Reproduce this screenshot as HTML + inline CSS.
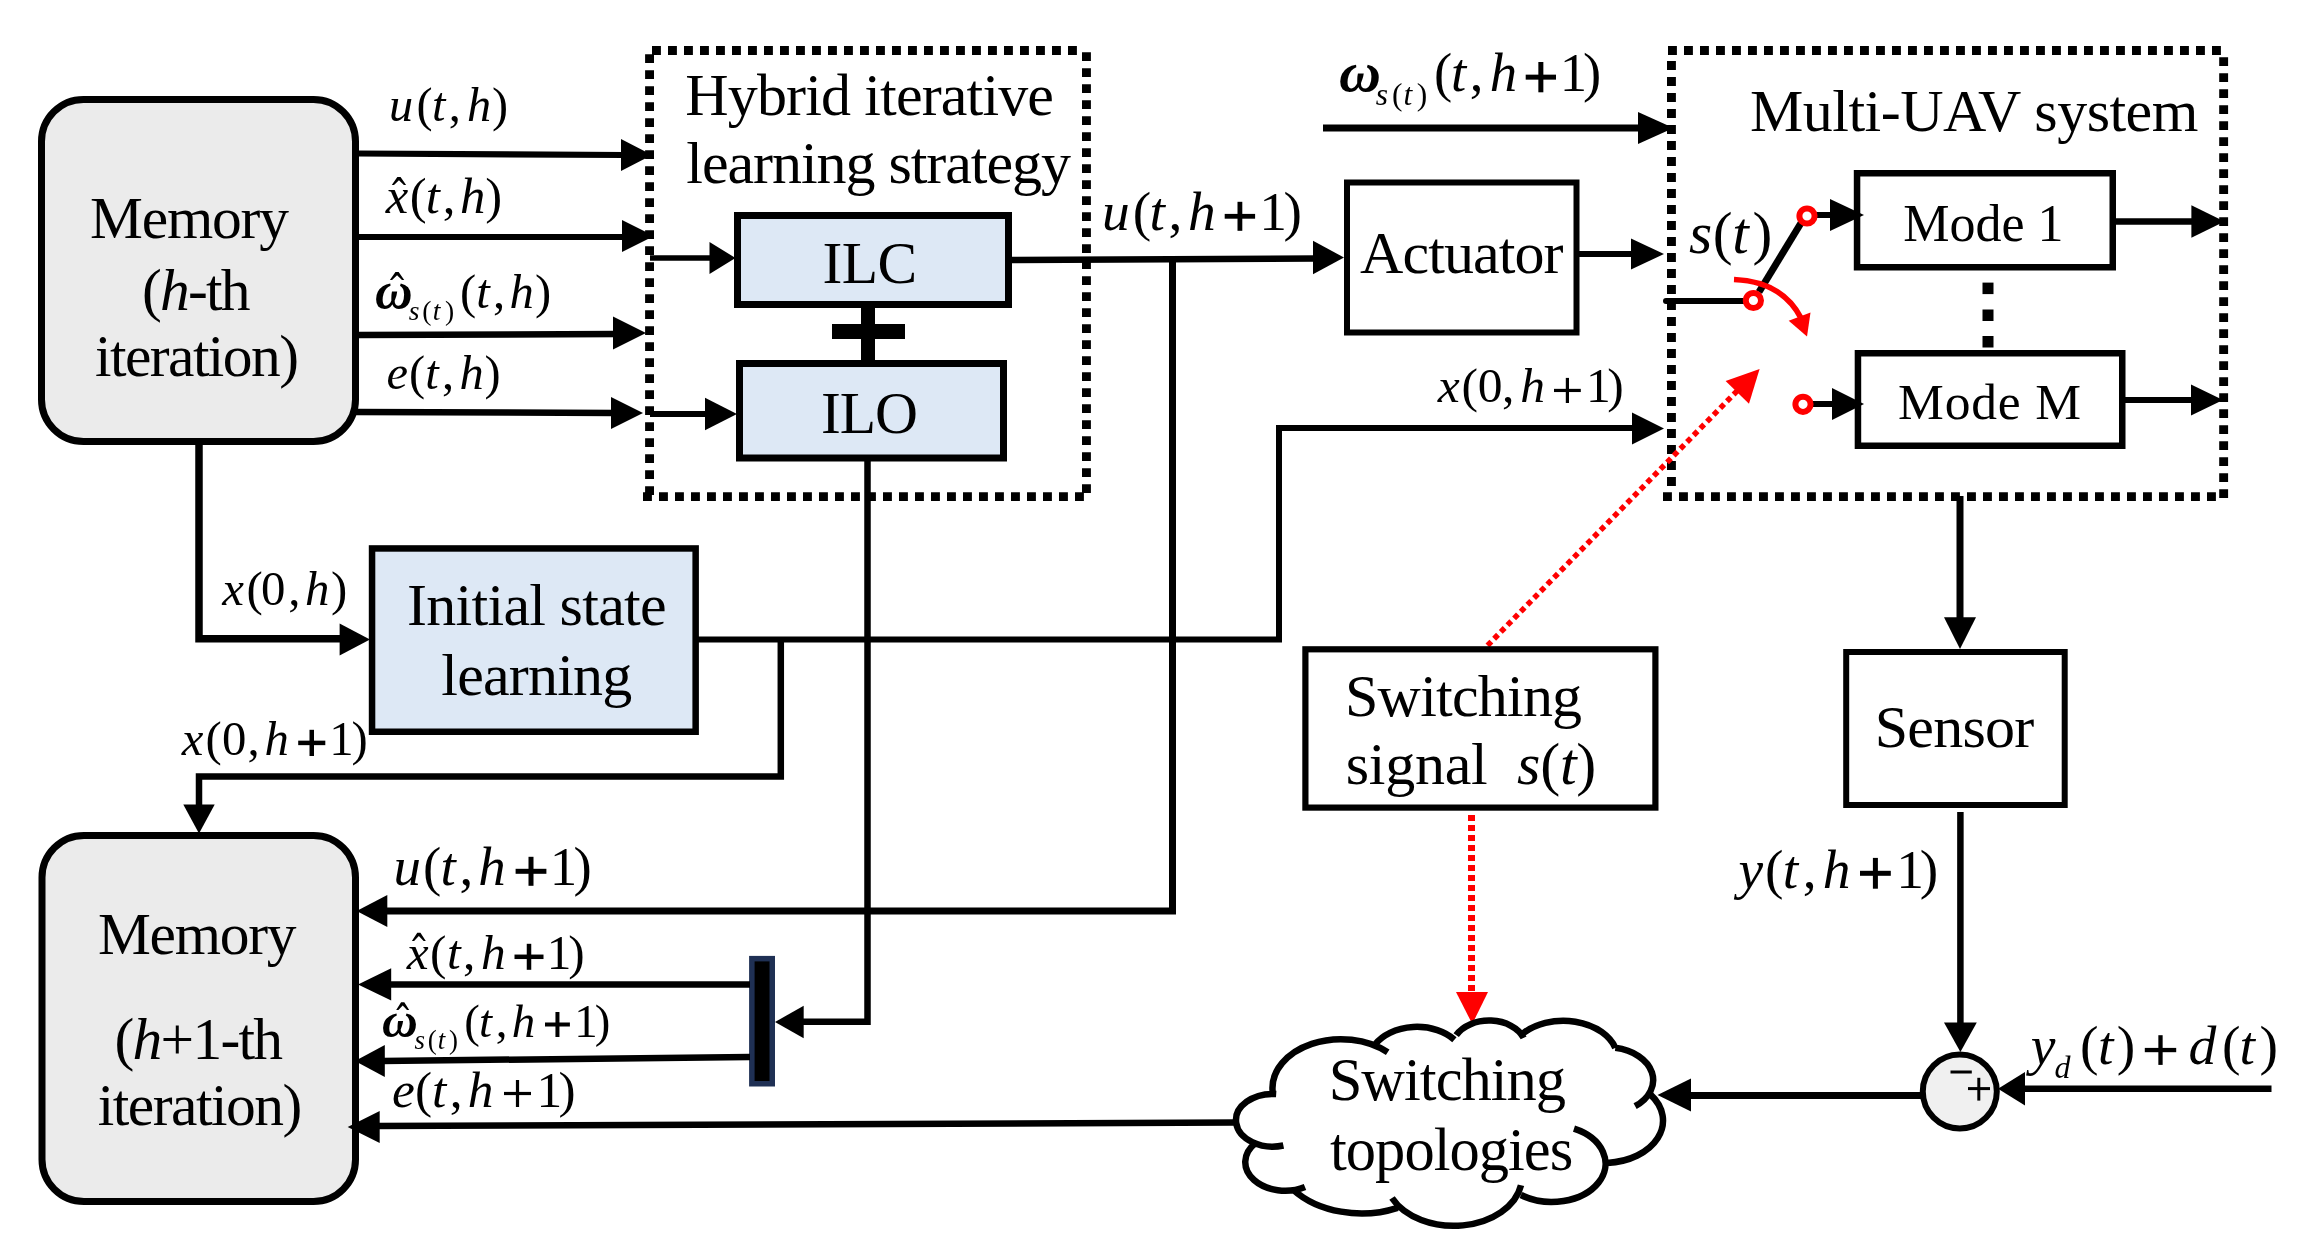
<!DOCTYPE html>
<html><head><meta charset="utf-8"><style>
html,body{margin:0;padding:0;background:#fff;overflow:hidden}
svg{display:block;will-change:transform}
text{font-family:"Liberation Serif",serif;fill:#000}
</style></head><body>
<svg width="2315" height="1251" viewBox="0 0 2315 1251">
<rect width="2315" height="1251" fill="#fff"/>
<rect x="41.5" y="99.5" width="314" height="342" rx="42" fill="#ebebeb" stroke="#000" stroke-width="7"/>
<line x1="357" y1="153.5" x2="625" y2="155" stroke="#000" stroke-width="6.2" stroke-linecap="butt" />
<polygon points="652,155 621,139 621,171" fill="#000"/>
<line x1="357" y1="237" x2="625" y2="237" stroke="#000" stroke-width="6" stroke-linecap="butt" />
<polygon points="654,236 622,220 622,252" fill="#000"/>
<line x1="359" y1="335" x2="618" y2="334" stroke="#000" stroke-width="6.5" stroke-linecap="butt" />
<polygon points="646,333 613,316.6 613,349.4" fill="#000"/>
<line x1="355" y1="412" x2="615" y2="413" stroke="#000" stroke-width="6.5" stroke-linecap="butt" />
<polygon points="643,413 611,397 611,429" fill="#000"/>
<path d="M652,46h8.9v8.9h-8.9z M668,46h8.9v8.9h-8.9z M684,46h8.9v8.9h-8.9z M700,46h8.9v8.9h-8.9z M716,46h8.9v8.9h-8.9z M732,46h8.9v8.9h-8.9z M748,46h8.9v8.9h-8.9z M764,46h8.9v8.9h-8.9z M780,46h8.9v8.9h-8.9z M796,46h8.9v8.9h-8.9z M812,46h8.9v8.9h-8.9z M828,46h8.9v8.9h-8.9z M844,46h8.9v8.9h-8.9z M860,46h8.9v8.9h-8.9z M876,46h8.9v8.9h-8.9z M892,46h8.9v8.9h-8.9z M908,46h8.9v8.9h-8.9z M924,46h8.9v8.9h-8.9z M940,46h8.9v8.9h-8.9z M956,46h8.9v8.9h-8.9z M972,46h8.9v8.9h-8.9z M988,46h8.9v8.9h-8.9z M1004,46h8.9v8.9h-8.9z M1020,46h8.9v8.9h-8.9z M1036,46h8.9v8.9h-8.9z M1052,46h8.9v8.9h-8.9z M1068,46h8.9v8.9h-8.9z M643,492.2h8.9v8.9h-8.9z M659,492.2h8.9v8.9h-8.9z M675,492.2h8.9v8.9h-8.9z M691,492.2h8.9v8.9h-8.9z M707,492.2h8.9v8.9h-8.9z M723,492.2h8.9v8.9h-8.9z M739,492.2h8.9v8.9h-8.9z M755,492.2h8.9v8.9h-8.9z M771,492.2h8.9v8.9h-8.9z M787,492.2h8.9v8.9h-8.9z M803,492.2h8.9v8.9h-8.9z M819,492.2h8.9v8.9h-8.9z M835,492.2h8.9v8.9h-8.9z M851,492.2h8.9v8.9h-8.9z M867,492.2h8.9v8.9h-8.9z M883,492.2h8.9v8.9h-8.9z M899,492.2h8.9v8.9h-8.9z M915,492.2h8.9v8.9h-8.9z M931,492.2h8.9v8.9h-8.9z M947,492.2h8.9v8.9h-8.9z M963,492.2h8.9v8.9h-8.9z M979,492.2h8.9v8.9h-8.9z M995,492.2h8.9v8.9h-8.9z M1011,492.2h8.9v8.9h-8.9z M1027,492.2h8.9v8.9h-8.9z M1043,492.2h8.9v8.9h-8.9z M1059,492.2h8.9v8.9h-8.9z M1075,492.2h8.9v8.9h-8.9z M645.1,54.2h8.9v8.9h-8.9z M645.1,70.2h8.9v8.9h-8.9z M645.1,86.2h8.9v8.9h-8.9z M645.1,102.2h8.9v8.9h-8.9z M645.1,118.2h8.9v8.9h-8.9z M645.1,134.2h8.9v8.9h-8.9z M645.1,150.2h8.9v8.9h-8.9z M645.1,166.2h8.9v8.9h-8.9z M645.1,182.2h8.9v8.9h-8.9z M645.1,198.2h8.9v8.9h-8.9z M645.1,214.2h8.9v8.9h-8.9z M645.1,230.2h8.9v8.9h-8.9z M645.1,246.2h8.9v8.9h-8.9z M645.1,262.2h8.9v8.9h-8.9z M645.1,278.2h8.9v8.9h-8.9z M645.1,294.2h8.9v8.9h-8.9z M645.1,310.2h8.9v8.9h-8.9z M645.1,326.2h8.9v8.9h-8.9z M645.1,342.2h8.9v8.9h-8.9z M645.1,358.2h8.9v8.9h-8.9z M645.1,374.2h8.9v8.9h-8.9z M645.1,390.2h8.9v8.9h-8.9z M645.1,406.2h8.9v8.9h-8.9z M645.1,422.2h8.9v8.9h-8.9z M645.1,438.2h8.9v8.9h-8.9z M645.1,454.2h8.9v8.9h-8.9z M645.1,470.2h8.9v8.9h-8.9z M645.1,486.2h8.9v8.9h-8.9z M1082,52.2h8.9v8.9h-8.9z M1082,68.2h8.9v8.9h-8.9z M1082,84.2h8.9v8.9h-8.9z M1082,100.2h8.9v8.9h-8.9z M1082,116.2h8.9v8.9h-8.9z M1082,132.2h8.9v8.9h-8.9z M1082,148.2h8.9v8.9h-8.9z M1082,164.2h8.9v8.9h-8.9z M1082,180.2h8.9v8.9h-8.9z M1082,196.2h8.9v8.9h-8.9z M1082,212.2h8.9v8.9h-8.9z M1082,228.2h8.9v8.9h-8.9z M1082,244.2h8.9v8.9h-8.9z M1082,260.2h8.9v8.9h-8.9z M1082,276.2h8.9v8.9h-8.9z M1082,292.2h8.9v8.9h-8.9z M1082,308.2h8.9v8.9h-8.9z M1082,324.2h8.9v8.9h-8.9z M1082,340.2h8.9v8.9h-8.9z M1082,356.2h8.9v8.9h-8.9z M1082,372.2h8.9v8.9h-8.9z M1082,388.2h8.9v8.9h-8.9z M1082,404.2h8.9v8.9h-8.9z M1082,420.2h8.9v8.9h-8.9z M1082,436.2h8.9v8.9h-8.9z M1082,452.2h8.9v8.9h-8.9z M1082,468.2h8.9v8.9h-8.9z M1082,484.2h8.9v8.9h-8.9z" fill="#000"/>
<rect x="737.5" y="215.5" width="271" height="89" rx="0" fill="#dde8f5" stroke="#000" stroke-width="7"/>
<rect x="739.5" y="363.5" width="264" height="94.5" rx="0" fill="#dde8f5" stroke="#000" stroke-width="7"/>
<rect x="861" y="307" width="14" height="54" fill="#000"/>
<rect x="832" y="324" width="73" height="15" fill="#000"/>
<line x1="650" y1="258" x2="712" y2="258" stroke="#000" stroke-width="5.5" stroke-linecap="butt" />
<polygon points="735.5,258 709.5,242 709.5,274" fill="#000"/>
<line x1="650" y1="414" x2="708" y2="414" stroke="#000" stroke-width="6" stroke-linecap="butt" />
<polygon points="737,414 705,397.8 705,430.2" fill="#000"/>
<line x1="1011" y1="260" x2="1316" y2="258.5" stroke="#000" stroke-width="6.5" stroke-linecap="butt" />
<polygon points="1344,257.5 1313,240.8 1313,274.2" fill="#000"/>
<polyline points="1172.5,259 1172.5,911 384,911" fill="none" stroke="#000" stroke-width="7" stroke-linejoin="miter" />
<polygon points="356.6,911 387.3,895 387.3,927" fill="#000"/>
<rect x="1347" y="182.5" width="229.5" height="150" rx="0" fill="none" stroke="#000" stroke-width="6"/>
<line x1="1579" y1="254" x2="1634" y2="254" stroke="#000" stroke-width="6" stroke-linecap="butt" />
<polygon points="1664,254 1631,238.6 1631,269.4" fill="#000"/>
<line x1="1323" y1="128" x2="1641" y2="128" stroke="#000" stroke-width="7" stroke-linecap="butt" />
<polygon points="1673.5,128 1638,112 1638,144" fill="#000"/>
<path d="M1668,46h8.9v8.9h-8.9z M1684,46h8.9v8.9h-8.9z M1700,46h8.9v8.9h-8.9z M1716,46h8.9v8.9h-8.9z M1732,46h8.9v8.9h-8.9z M1748,46h8.9v8.9h-8.9z M1764,46h8.9v8.9h-8.9z M1780,46h8.9v8.9h-8.9z M1796,46h8.9v8.9h-8.9z M1812,46h8.9v8.9h-8.9z M1828,46h8.9v8.9h-8.9z M1844,46h8.9v8.9h-8.9z M1860,46h8.9v8.9h-8.9z M1876,46h8.9v8.9h-8.9z M1892,46h8.9v8.9h-8.9z M1908,46h8.9v8.9h-8.9z M1924,46h8.9v8.9h-8.9z M1940,46h8.9v8.9h-8.9z M1956,46h8.9v8.9h-8.9z M1972,46h8.9v8.9h-8.9z M1988,46h8.9v8.9h-8.9z M2004,46h8.9v8.9h-8.9z M2020,46h8.9v8.9h-8.9z M2036,46h8.9v8.9h-8.9z M2052,46h8.9v8.9h-8.9z M2068,46h8.9v8.9h-8.9z M2084,46h8.9v8.9h-8.9z M2100,46h8.9v8.9h-8.9z M2116,46h8.9v8.9h-8.9z M2132,46h8.9v8.9h-8.9z M2148,46h8.9v8.9h-8.9z M2164,46h8.9v8.9h-8.9z M2180,46h8.9v8.9h-8.9z M2196,46h8.9v8.9h-8.9z M2212,46h8.9v8.9h-8.9z M1663,492.2h8.9v8.9h-8.9z M1679,492.2h8.9v8.9h-8.9z M1695,492.2h8.9v8.9h-8.9z M1711,492.2h8.9v8.9h-8.9z M1727,492.2h8.9v8.9h-8.9z M1743,492.2h8.9v8.9h-8.9z M1759,492.2h8.9v8.9h-8.9z M1775,492.2h8.9v8.9h-8.9z M1791,492.2h8.9v8.9h-8.9z M1807,492.2h8.9v8.9h-8.9z M1823,492.2h8.9v8.9h-8.9z M1839,492.2h8.9v8.9h-8.9z M1855,492.2h8.9v8.9h-8.9z M1871,492.2h8.9v8.9h-8.9z M1887,492.2h8.9v8.9h-8.9z M1903,492.2h8.9v8.9h-8.9z M1919,492.2h8.9v8.9h-8.9z M1935,492.2h8.9v8.9h-8.9z M1951,492.2h8.9v8.9h-8.9z M1967,492.2h8.9v8.9h-8.9z M1983,492.2h8.9v8.9h-8.9z M1999,492.2h8.9v8.9h-8.9z M2015,492.2h8.9v8.9h-8.9z M2031,492.2h8.9v8.9h-8.9z M2047,492.2h8.9v8.9h-8.9z M2063,492.2h8.9v8.9h-8.9z M2079,492.2h8.9v8.9h-8.9z M2095,492.2h8.9v8.9h-8.9z M2111,492.2h8.9v8.9h-8.9z M2127,492.2h8.9v8.9h-8.9z M2143,492.2h8.9v8.9h-8.9z M2159,492.2h8.9v8.9h-8.9z M2175,492.2h8.9v8.9h-8.9z M2191,492.2h8.9v8.9h-8.9z M2207,492.2h8.9v8.9h-8.9z M1667,61.1h8.9v8.9h-8.9z M1667,77.1h8.9v8.9h-8.9z M1667,93.1h8.9v8.9h-8.9z M1667,109.1h8.9v8.9h-8.9z M1667,125.1h8.9v8.9h-8.9z M1667,141.1h8.9v8.9h-8.9z M1667,157.1h8.9v8.9h-8.9z M1667,173.1h8.9v8.9h-8.9z M1667,189.1h8.9v8.9h-8.9z M1667,205.1h8.9v8.9h-8.9z M1667,221.1h8.9v8.9h-8.9z M1667,237.1h8.9v8.9h-8.9z M1667,253.1h8.9v8.9h-8.9z M1667,269.1h8.9v8.9h-8.9z M1667,285.1h8.9v8.9h-8.9z M1667,301.1h8.9v8.9h-8.9z M1667,317.1h8.9v8.9h-8.9z M1667,333.1h8.9v8.9h-8.9z M1667,349.1h8.9v8.9h-8.9z M1667,365.1h8.9v8.9h-8.9z M1667,381.1h8.9v8.9h-8.9z M1667,397.1h8.9v8.9h-8.9z M1667,413.1h8.9v8.9h-8.9z M1667,429.1h8.9v8.9h-8.9z M1667,445.1h8.9v8.9h-8.9z M1667,461.1h8.9v8.9h-8.9z M1667,477.1h8.9v8.9h-8.9z M2219.2,57.2h8.9v8.9h-8.9z M2219.2,73.2h8.9v8.9h-8.9z M2219.2,89.2h8.9v8.9h-8.9z M2219.2,105.2h8.9v8.9h-8.9z M2219.2,121.2h8.9v8.9h-8.9z M2219.2,137.2h8.9v8.9h-8.9z M2219.2,153.2h8.9v8.9h-8.9z M2219.2,169.2h8.9v8.9h-8.9z M2219.2,185.2h8.9v8.9h-8.9z M2219.2,201.2h8.9v8.9h-8.9z M2219.2,217.2h8.9v8.9h-8.9z M2219.2,233.2h8.9v8.9h-8.9z M2219.2,249.2h8.9v8.9h-8.9z M2219.2,265.2h8.9v8.9h-8.9z M2219.2,281.2h8.9v8.9h-8.9z M2219.2,297.2h8.9v8.9h-8.9z M2219.2,313.2h8.9v8.9h-8.9z M2219.2,329.2h8.9v8.9h-8.9z M2219.2,345.2h8.9v8.9h-8.9z M2219.2,361.2h8.9v8.9h-8.9z M2219.2,377.2h8.9v8.9h-8.9z M2219.2,393.2h8.9v8.9h-8.9z M2219.2,409.2h8.9v8.9h-8.9z M2219.2,425.2h8.9v8.9h-8.9z M2219.2,441.2h8.9v8.9h-8.9z M2219.2,457.2h8.9v8.9h-8.9z M2219.2,473.2h8.9v8.9h-8.9z M2219.2,489.2h8.9v8.9h-8.9z" fill="#000"/>
<rect x="1857.05" y="173.25" width="255.7" height="94" rx="0" fill="none" stroke="#000" stroke-width="6.5"/>
<rect x="1857.95" y="353.25" width="264.3" height="92.5" rx="0" fill="none" stroke="#000" stroke-width="6.5"/>
<line x1="2116" y1="221.5" x2="2194" y2="221.5" stroke="#000" stroke-width="6.5" stroke-linecap="butt" />
<polygon points="2224.5,221.5 2191.4,205.2 2191.4,237.8" fill="#000"/>
<line x1="2125" y1="400" x2="2194" y2="400" stroke="#000" stroke-width="6" stroke-linecap="butt" />
<polygon points="2223,400 2191,384.5 2191,415.5" fill="#000"/>
<rect x="1982.5" y="282.6" width="11" height="11.5" fill="#000"/>
<rect x="1982.5" y="309.5" width="11" height="11.5" fill="#000"/>
<rect x="1982.5" y="336" width="11" height="11.5" fill="#000"/>
<line x1="1666" y1="301" x2="1746" y2="301" stroke="#000" stroke-width="6" stroke-linecap="round" />
<line x1="1759" y1="292" x2="1801" y2="223" stroke="#000" stroke-width="7" stroke-linecap="butt" />
<line x1="1815" y1="215" x2="1833" y2="215" stroke="#000" stroke-width="6" stroke-linecap="butt" />
<polygon points="1864,215 1830,199 1830,231" fill="#000"/>
<line x1="1811" y1="404" x2="1835" y2="404" stroke="#000" stroke-width="6" stroke-linecap="butt" />
<polygon points="1864,404 1832,388 1832,420" fill="#000"/>
<circle cx="1807" cy="216" r="7.6" fill="#fff" stroke="#ff0000" stroke-width="6"/>
<circle cx="1803" cy="404.3" r="7.6" fill="#fff" stroke="#ff0000" stroke-width="6"/>
<circle cx="1753.4" cy="300.5" r="7.6" fill="#fff" stroke="#ff0000" stroke-width="6"/>
<path d="M1734,279.5 Q1782,281.5 1801,318" fill="none" stroke="#ff0000" stroke-width="5.7"/>
<polygon points="1788.7,320.8 1810.5,312.5 1807,336.5" fill="#ff0000"/>
<line x1="1487.5" y1="645.5" x2="1738" y2="390" stroke="#ff0000" stroke-width="5.5" stroke-dasharray="5.5 4"/>
<polygon points="1759.6,369 1725.6,381 1749,403.7" fill="#ff0000"/>
<polyline points="698,639.5 1279,639.5 1279,428 1635,428" fill="none" stroke="#000" stroke-width="6" stroke-linejoin="miter" />
<polygon points="1664,428.5 1632,412.5 1632,444.5" fill="#000"/>
<polyline points="199,444 199,638.8 342,638.8" fill="none" stroke="#000" stroke-width="7.5" stroke-linejoin="miter" />
<polygon points="370,639.5 339.6,623.5 339.6,655.5" fill="#000"/>
<rect x="372.05" y="548.45" width="323.6" height="183.3" rx="0" fill="#dde8f5" stroke="#000" stroke-width="6.5"/>
<polyline points="780.8,639.5 780.8,776.5 199,776.5 199,806" fill="none" stroke="#000" stroke-width="6.5" stroke-linejoin="miter" />
<polygon points="199,833.5 183.3,804.4 214.7,804.4" fill="#000"/>
<rect x="42" y="835.5" width="313.5" height="366" rx="42" fill="#ebebeb" stroke="#000" stroke-width="7"/>
<polyline points="867.5,461 867.5,1021.7 800,1021.7" fill="none" stroke="#000" stroke-width="6.5" stroke-linejoin="miter" />
<polygon points="775,1022 803.7,1005.7 803.7,1038.3" fill="#000"/>
<rect x="751.85" y="958.65" width="20.4" height="125.1" fill="#000" stroke="#1f3054" stroke-width="5.5"/>
<line x1="750" y1="984.4" x2="388" y2="984.4" stroke="#000" stroke-width="6.5" stroke-linecap="butt" />
<polygon points="358,984.4 391.2,968.2 391.2,1000.6" fill="#000"/>
<line x1="750" y1="1057" x2="382" y2="1061" stroke="#000" stroke-width="6.5" stroke-linecap="butt" />
<polygon points="355,1061 384.8,1045 384.8,1077" fill="#000"/>
<line x1="1236" y1="1122.5" x2="376" y2="1126" stroke="#000" stroke-width="6.5" stroke-linecap="butt" />
<polygon points="347.7,1127 379.7,1111 379.7,1143" fill="#000"/>
<rect x="1305.4" y="649.3" width="350" height="158.3" rx="0" fill="none" stroke="#000" stroke-width="6.2"/>
<line x1="1471.5" y1="815" x2="1471.5" y2="992" stroke="#ff0000" stroke-width="7" stroke-dasharray="6 4"/>
<polygon points="1456,992 1488,992 1472.3,1024" fill="#ff0000"/>
<line x1="1960" y1="496" x2="1960" y2="620" stroke="#000" stroke-width="7" stroke-linecap="butt" />
<polygon points="1960,649 1944,617.2 1976,617.2" fill="#000"/>
<rect x="1846.2" y="652" width="218.5" height="153" rx="0" fill="none" stroke="#000" stroke-width="6"/>
<line x1="1960.4" y1="812" x2="1960.4" y2="1025" stroke="#000" stroke-width="6.5" stroke-linecap="butt" />
<polygon points="1960.4,1052 1944,1022.4 1976.8,1022.4" fill="#000"/>
<circle cx="1959.8" cy="1091.5" r="37" fill="#f0f0f0" stroke="#000" stroke-width="6"/>
<line x1="1950.5" y1="1072" x2="1971.8" y2="1072" stroke="#000" stroke-width="3" stroke-linecap="butt" />
<line x1="1968" y1="1088.6" x2="1990" y2="1088.6" stroke="#000" stroke-width="3" stroke-linecap="butt" />
<line x1="1978.8" y1="1077.8" x2="1978.8" y2="1100.6" stroke="#000" stroke-width="3" stroke-linecap="butt" />
<line x1="2271.5" y1="1088.8" x2="2022" y2="1088.8" stroke="#000" stroke-width="6.5" stroke-linecap="butt" />
<polygon points="1998,1088.8 2025,1072.1 2025,1105.5" fill="#000"/>
<line x1="1921" y1="1095.5" x2="1688" y2="1095.5" stroke="#000" stroke-width="7" stroke-linecap="butt" />
<polygon points="1657.5,1095 1691,1078.5 1691,1111.5" fill="#000"/>
<path d="M1283.4,1145.5 A36.89,26.35 0 1 1 1276.2,1094 M1272.6,1091 A68.51,48.93 0 0 1 1387.7,1052.3 M1375.2,1044.2 A48.05,34.32 0 0 1 1454.4,1039.7 M1456.2,1035.2 A36.66,26.19 0 0 1 1523.6,1037.9 M1523.5,1033 A54.67,39.05 0 0 1 1615.3,1047.8 M1615.3,1047.8 A45.95,32.82 0 0 1 1635.1,1106.2 M1650.4,1094.5 A59.3,42.36 0 0 1 1607.2,1162.9 M1574,1128.7 A53.68,38.34 0 1 1 1521,1195 M1521,1185.3 A68.3,48.78 0 0 1 1392,1198 M1397.6,1207.8 A86.93,62.09 0 0 1 1293.3,1189.8 M1305,1187 A39.99,28.56 0 0 1 1255.6,1143" fill="none" stroke="#000" stroke-width="6.5"/>
<g id="texts">
<text id="t_mem1" x="90" y="238" font-size="59.5" textLength="199" lengthAdjust="spacing" xml:space="preserve"><tspan>Memory</tspan></text>
<text id="t_hth" x="142" y="310" font-size="59.5" textLength="108.4" lengthAdjust="spacing" xml:space="preserve"><tspan>(</tspan><tspan font-style="italic">h</tspan><tspan>-th</tspan></text>
<text id="t_iter1" x="95" y="375.5" font-size="59.5" textLength="204" lengthAdjust="spacing" xml:space="preserve"><tspan>iteration)</tspan></text>
<text id="t_hyb" x="685.3" y="114.5" font-size="60" textLength="368.7" lengthAdjust="spacing" xml:space="preserve"><tspan>Hybrid iterative</tspan></text>
<text id="t_lstrat" x="686.3" y="183" font-size="60" textLength="384.7" lengthAdjust="spacing" xml:space="preserve"><tspan>learning strategy</tspan></text>
<text id="t_ilc" x="822.4" y="283" font-size="59.5" textLength="94.7" lengthAdjust="spacing" xml:space="preserve"><tspan>ILC</tspan></text>
<text id="t_ilo" x="821" y="433" font-size="59.5" textLength="97" lengthAdjust="spacing" xml:space="preserve"><tspan>ILO</tspan></text>
<text id="t_act" x="1360" y="272.5" font-size="60" textLength="203.6" lengthAdjust="spacing" xml:space="preserve"><tspan>Actuator</tspan></text>
<text id="t_muav" x="1750" y="131.3" font-size="60" textLength="448.4" lengthAdjust="spacing" xml:space="preserve"><tspan>Multi-UAV system</tspan></text>
<text id="t_mode1" x="1903.2" y="240.8" font-size="52" textLength="160.4" lengthAdjust="spacing" xml:space="preserve"><tspan>Mode 1</tspan></text>
<text id="t_modem" x="1898" y="419" font-size="51.5" textLength="183" lengthAdjust="spacing" xml:space="preserve"><tspan>Mode M</tspan></text>
<text id="t_init" x="407" y="625.4" font-size="60" textLength="259.7" lengthAdjust="spacing" xml:space="preserve"><tspan>Initial state</tspan></text>
<text id="t_learn" x="441.3" y="695.3" font-size="60" textLength="191" lengthAdjust="spacing" xml:space="preserve"><tspan>learning</tspan></text>
<text id="t_mem2" x="98" y="953.6" font-size="59.5" textLength="198.5" lengthAdjust="spacing" xml:space="preserve"><tspan>Memory</tspan></text>
<text id="t_h1th" x="114.5" y="1059" font-size="59.5" textLength="168.5" lengthAdjust="spacing" xml:space="preserve"><tspan>(</tspan><tspan font-style="italic">h</tspan><tspan>+1-th</tspan></text>
<text id="t_iter2" x="97.7" y="1125.3" font-size="59.5" textLength="204.6" lengthAdjust="spacing" xml:space="preserve"><tspan>iteration)</tspan></text>
<text id="t_sw1" x="1345" y="715.5" font-size="60" textLength="237.1" lengthAdjust="spacing" xml:space="preserve"><tspan>Switching</tspan></text>
<text id="t_sig" x="1345.7" y="784" font-size="60" textLength="250.6" lengthAdjust="spacing" xml:space="preserve"><tspan>signal  </tspan><tspan font-style="italic">s</tspan><tspan>(</tspan><tspan font-style="italic">t</tspan><tspan>)</tspan></text>
<text id="t_sensor" x="1874.7" y="746.8" font-size="60" textLength="159.6" lengthAdjust="spacing" xml:space="preserve"><tspan>Sensor</tspan></text>
<text id="t_sw2" x="1328.7" y="1099.6" font-size="60.5" textLength="237.3" lengthAdjust="spacing" xml:space="preserve"><tspan>Switching</tspan></text>
<text id="t_topo" x="1330" y="1169.5" font-size="60.5" textLength="243.3" lengthAdjust="spacing" xml:space="preserve"><tspan>topologies</tspan></text>
</g>
<g id="math">
<text x="388.99" y="121.42" font-size="48.31" font-style="italic">u</text>
<text x="416.52" y="121.42" font-size="48.31">(</text>
<text x="432.04" y="121.42" font-size="48.31" font-style="italic">t</text>
<text x="448.86" y="121.42" font-size="48.31">,</text>
<text x="466.9" y="121.42" font-size="48.31" font-style="italic">h</text>
<text x="492.04" y="121.42" font-size="48.31">)</text>
<text x="385.84" y="213.1" font-size="50.73" font-style="italic">x</text>
<text x="409.71" y="213.1" font-size="50.73">(</text>
<text x="425.78" y="213.1" font-size="50.73" font-style="italic">t</text>
<text x="442.69" y="213.1" font-size="50.73">,</text>
<text x="459.95" y="213.1" font-size="50.73" font-style="italic">h</text>
<text x="485.3" y="213.1" font-size="50.73">)</text>
<text x="374.93" y="307.74" font-size="52" font-style="italic" font-weight="bold">ω</text>
<text x="459.97" y="307.74" font-size="48.64">(</text>
<text x="476.34" y="307.74" font-size="48.64" font-style="italic">t</text>
<text x="492.93" y="307.74" font-size="48.64">,</text>
<text x="509.42" y="307.74" font-size="48.64" font-style="italic">h</text>
<text x="534.89" y="307.74" font-size="48.64">)</text>
<text x="408.83" y="320.13" font-size="27.57" font-style="italic">s</text>
<text x="422.3" y="320.13" font-size="27.57">(</text>
<text x="432.69" y="320.13" font-size="27.57" font-style="italic">t</text>
<text x="445.07" y="320.13" font-size="27.57">)</text>
<text x="386.45" y="389.49" font-size="48.42" font-style="italic">e</text>
<text x="409.1" y="389.49" font-size="48.42">(</text>
<text x="425.28" y="389.49" font-size="48.42" font-style="italic">t</text>
<text x="442.05" y="389.49" font-size="48.42">,</text>
<text x="459.48" y="389.49" font-size="48.42" font-style="italic">h</text>
<text x="484.57" y="389.49" font-size="48.42">)</text>
<text x="1102.05" y="230.29" font-size="55.48" font-style="italic">u</text>
<text x="1132.84" y="230.29" font-size="55.48">(</text>
<text x="1149.52" y="230.29" font-size="55.48" font-style="italic">t</text>
<text x="1168.61" y="230.29" font-size="55.48">,</text>
<text x="1188.08" y="230.29" font-size="55.48" font-style="italic">h</text>
<text x="1259.31" y="230.29" font-size="55.48">1</text>
<text x="1283.39" y="230.29" font-size="55.48">)</text>
<text x="1339.01" y="91.15" font-size="58" font-style="italic" font-weight="bold">ω</text>
<text x="1434.02" y="91.15" font-size="54.7">(</text>
<text x="1451.05" y="91.15" font-size="54.7" font-style="italic">t</text>
<text x="1469.69" y="91.15" font-size="54.7">,</text>
<text x="1489.72" y="91.15" font-size="54.7" font-style="italic">h</text>
<text x="1559.66" y="91.15" font-size="54.7">1</text>
<text x="1583.11" y="91.15" font-size="54.7">)</text>
<text x="1375.8" y="104.88" font-size="31.54" font-style="italic">s</text>
<text x="1391.96" y="104.88" font-size="31.54">(</text>
<text x="1403.41" y="104.88" font-size="31.54" font-style="italic">t</text>
<text x="1416.83" y="104.88" font-size="31.54">)</text>
<text x="1437.84" y="402.36" font-size="49.52" font-style="italic">x</text>
<text x="1461.41" y="402.36" font-size="49.52">(</text>
<text x="1477.87" y="402.36" font-size="49.52">0</text>
<text x="1501.98" y="402.36" font-size="49.52">,</text>
<text x="1520.3" y="402.36" font-size="49.52" font-style="italic">h</text>
<text x="1585.88" y="402.36" font-size="49.52">1</text>
<text x="1607.14" y="402.36" font-size="49.52">)</text>
<text x="1688.95" y="253.22" font-size="59.56" font-style="italic">s</text>
<text x="1712.63" y="253.22" font-size="59.56">(</text>
<text x="1732.27" y="253.22" font-size="59.56" font-style="italic">t</text>
<text x="1752.38" y="253.22" font-size="59.56">)</text>
<text x="222.28" y="604.6" font-size="48.86" font-style="italic">x</text>
<text x="246.38" y="604.6" font-size="48.86">(</text>
<text x="260.99" y="604.6" font-size="48.86">0</text>
<text x="288.2" y="604.6" font-size="48.86">,</text>
<text x="304.97" y="604.6" font-size="48.86" font-style="italic">h</text>
<text x="330.95" y="604.6" font-size="48.86">)</text>
<text x="181.76" y="755.42" font-size="48.75" font-style="italic">x</text>
<text x="205.4" y="755.42" font-size="48.75">(</text>
<text x="222.11" y="755.42" font-size="48.75">0</text>
<text x="247.61" y="755.42" font-size="48.75">,</text>
<text x="264.44" y="755.42" font-size="48.75" font-style="italic">h</text>
<text x="329.18" y="755.42" font-size="48.75">1</text>
<text x="351.47" y="755.42" font-size="48.75">)</text>
<text x="393.44" y="885.11" font-size="54.92" font-style="italic">u</text>
<text x="422.98" y="885.11" font-size="54.92">(</text>
<text x="440.46" y="885.11" font-size="54.92" font-style="italic">t</text>
<text x="459.62" y="885.11" font-size="54.92">,</text>
<text x="478.27" y="885.11" font-size="54.92" font-style="italic">h</text>
<text x="549.85" y="885.11" font-size="54.92">1</text>
<text x="573.48" y="885.11" font-size="54.92">)</text>
<text x="406.64" y="969.2" font-size="49.3" font-style="italic">x</text>
<text x="430.05" y="969.2" font-size="49.3">(</text>
<text x="446.92" y="969.2" font-size="49.3" font-style="italic">t</text>
<text x="463.1" y="969.2" font-size="49.3">,</text>
<text x="481.11" y="969.2" font-size="49.3" font-style="italic">h</text>
<text x="546.69" y="969.2" font-size="49.3">1</text>
<text x="568.33" y="969.2" font-size="49.3">)</text>
<text x="382.11" y="1036.82" font-size="49.5" font-style="italic" font-weight="bold">ω</text>
<text x="464.37" y="1036.82" font-size="46.87">(</text>
<text x="478.89" y="1036.82" font-size="46.87" font-style="italic">t</text>
<text x="495.87" y="1036.82" font-size="46.87">,</text>
<text x="511.86" y="1036.82" font-size="46.87" font-style="italic">h</text>
<text x="574.33" y="1036.82" font-size="46.87">1</text>
<text x="594.72" y="1036.82" font-size="46.87">)</text>
<text x="414.56" y="1048.87" font-size="26.91" font-style="italic">s</text>
<text x="427.86" y="1048.87" font-size="26.91">(</text>
<text x="437.75" y="1048.87" font-size="26.91" font-style="italic">t</text>
<text x="448.93" y="1048.87" font-size="26.91">)</text>
<text x="392.08" y="1106.86" font-size="51.4" font-style="italic">e</text>
<text x="415.09" y="1106.86" font-size="51.4">(</text>
<text x="432.02" y="1106.86" font-size="51.4" font-style="italic">t</text>
<text x="449.82" y="1106.86" font-size="51.4">,</text>
<text x="467.74" y="1106.86" font-size="51.4" font-style="italic">h</text>
<text x="536.59" y="1106.86" font-size="51.4">1</text>
<text x="558.49" y="1106.86" font-size="51.4">)</text>
<text x="1738.54" y="887.59" font-size="55.48" font-style="italic">y</text>
<text x="1765.09" y="887.59" font-size="55.48">(</text>
<text x="1782.87" y="887.59" font-size="55.48" font-style="italic">t</text>
<text x="1802.71" y="887.59" font-size="55.48">,</text>
<text x="1822.73" y="887.59" font-size="55.48" font-style="italic">h</text>
<text x="1896.26" y="887.59" font-size="55.48">1</text>
<text x="1919.69" y="887.59" font-size="55.48">)</text>
<text x="2030.87" y="1063.97" font-size="55.59" font-style="italic">y</text>
<text x="2079.97" y="1063.97" font-size="55.59">(</text>
<text x="2098.05" y="1063.97" font-size="55.59" font-style="italic">t</text>
<text x="2116.67" y="1063.97" font-size="55.59">)</text>
<text x="2188.59" y="1063.97" font-size="55.59" font-style="italic">d</text>
<text x="2221.92" y="1063.97" font-size="55.59">(</text>
<text x="2239.45" y="1063.97" font-size="55.59" font-style="italic">t</text>
<text x="2259.47" y="1063.97" font-size="55.59">)</text>
<text x="2054.38" y="1078.4" font-size="32" font-style="italic">d</text>
<polygon points="391.8,184.9 397.35,177 400.55,177 406.1,184.9 403.9,184.9 398.95,180.2 394,184.9" fill="#000"/>
<polygon points="389.9,279.9 395.45,272 398.65,272 404.2,279.9 402,279.9 397.05,275.2 392.1,279.9" fill="#000"/>
<polygon points="411.9,940.9 417.25,932.7 420.45,932.7 425.8,940.9 423.6,940.9 418.85,935.9 414.1,940.9" fill="#000"/>
<polygon points="396.2,1010 401.1,1002.2 404.3,1002.2 409.2,1010 407,1010 402.7,1005.4 398.4,1010" fill="#000"/>
<rect x="1224.7" y="213.9" width="30.4" height="4.8" fill="#000"/>
<rect x="1237.5" y="201.8" width="4.8" height="29" fill="#000"/>
<rect x="1525.7" y="74.65" width="30.3" height="5" fill="#000"/>
<rect x="1538.35" y="62" width="5" height="30.3" fill="#000"/>
<rect x="1554" y="388.85" width="26.8" height="3.2" fill="#000"/>
<rect x="1565.8" y="377.9" width="3.2" height="25.1" fill="#000"/>
<rect x="298.2" y="740.65" width="27.1" height="4.5" fill="#000"/>
<rect x="309.5" y="729.8" width="4.5" height="26.2" fill="#000"/>
<rect x="515.6" y="868.8" width="30.8" height="5" fill="#000"/>
<rect x="528.5" y="856.8" width="5" height="29" fill="#000"/>
<rect x="514.5" y="954.55" width="29" height="4.5" fill="#000"/>
<rect x="526.75" y="943.8" width="4.5" height="26" fill="#000"/>
<rect x="545" y="1022.5" width="24.9" height="4" fill="#000"/>
<rect x="555.45" y="1012" width="4" height="25" fill="#000"/>
<rect x="504" y="1091.9" width="27" height="3.2" fill="#000"/>
<rect x="515.9" y="1080" width="3.2" height="27" fill="#000"/>
<rect x="1860" y="870.8" width="30.8" height="5" fill="#000"/>
<rect x="1872.9" y="857.9" width="5" height="30.8" fill="#000"/>
<rect x="2144.8" y="1047.9" width="31.4" height="4.3" fill="#000"/>
<rect x="2158.35" y="1035.2" width="4.3" height="29.7" fill="#000"/>
</g>
</svg>
</body></html>
